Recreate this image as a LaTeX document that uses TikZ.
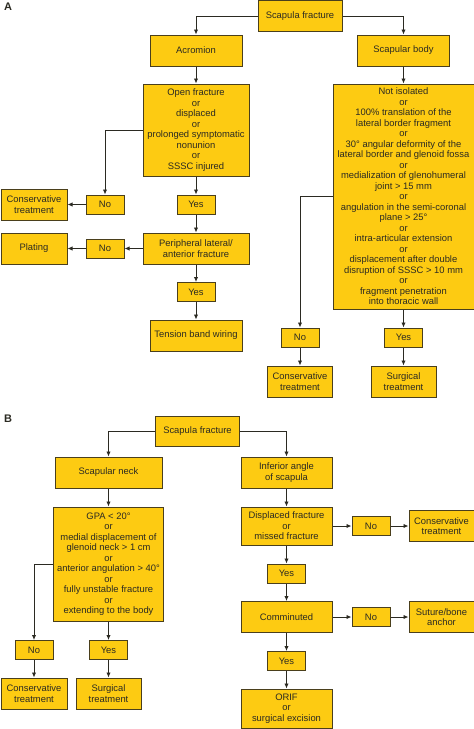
\documentclass[tikz,border=0pt]{standalone}
\usepackage{fontspec}
\setmainfont{Liberation Sans}
\usetikzlibrary{arrows.meta}
\definecolor{boxfill}{HTML}{FDCB12}
\definecolor{boxline}{HTML}{4A3F1C}
\definecolor{ink}{HTML}{2B2A22}
\begin{document}
\begin{tikzpicture}[x=1pt,y=-1pt,
  box/.style={draw=boxline,fill=boxfill,line width=1pt,align=center,inner sep=1pt,
    text=ink,font=\fontsize{9.4}{10.5}\selectfont},
  small/.style={box,minimum width=38pt,minimum height=19pt},
  flow/.style={draw=ink,line width=0.9pt,-{Latex[length=5pt,width=4.4pt]}},
  panel/.style={font=\bfseries\fontsize{11}{12}\selectfont,text=ink,anchor=north west,inner sep=0pt}]
\useasboundingbox (0,0) rectangle (474,729);

% panel A
\node[panel] (labA) at (4,3) {A};
\node[box,minimum width=84pt,minimum height=31pt] (sfA) at (300,16) {Scapula fracture};
\node[box,minimum width=92pt,minimum height=31pt] (acr) at (196,50.5) {Acromion};
\node[box,minimum width=92pt,minimum height=31pt] (body) at (403.5,50.5) {Scapular body};
\node[box,minimum width=141pt,minimum height=225pt] (crit) at (403.5,196.5) {Not isolated\\or\\100\% translation of the\\lateral border fragment\\or\\30° angular deformity of the\\lateral border and glenoid fossa\\or\\medialization of glenohumeral\\joint > 15 mm\\or\\angulation in the semi-coronal\\plane > 25°\\or\\intra-articular extension\\or\\displacement after double\\disruption of SSSC > 10 mm\\or\\fragment penetration\\into thoracic wall};
\node[box,minimum width=106pt,minimum height=92pt] (open) at (196,130) {Open fracture\\or\\displaced\\or\\prolonged symptomatic\\nonunion\\or\\SSSC injured};
\node[small] (noA1) at (105,204.5) {No};
\node[box,minimum width=66pt,minimum height=31pt] (consA1) at (34,204.5) {Conservative\\treatment};
\node[small] (yesA1) at (196,204.5) {Yes};
\node[box,minimum width=106pt,minimum height=31pt] (peri) at (196,248.5) {Peripheral lateral/\\anterior fracture};
\node[small] (noA2) at (105,248.5) {No};
\node[box,minimum width=66pt,minimum height=31pt] (plat) at (34,248.5) {Plating};
\node[small] (yesA2) at (196,292) {Yes};
\node[box,minimum width=92pt,minimum height=31pt] (tens) at (196,335.5) {Tension band wiring};
\node[small] (noA3) at (300,337.5) {No};
\node[box,minimum width=65pt,minimum height=31pt] (consA3) at (300,381.5) {Conservative\\treatment};
\node[small] (yesA3) at (403.5,337.5) {Yes};
\node[box,minimum width=65pt,minimum height=31pt] (surgA3) at (403.5,381.5) {Surgical\\treatment};

\draw[flow] (sfA.west) -| (acr.north);
\draw[flow] (sfA.east) -| (body.north);
\draw[flow] (acr) -- (open);
\draw[flow] (body) -- (crit);
\draw[flow] (open.west) -| (noA1.north);
\draw[flow] (noA1) -- (consA1);
\draw[flow] (open) -- (yesA1);
\draw[flow] (yesA1) -- (peri);
\draw[flow] (peri) -- (noA2);
\draw[flow] (noA2) -- (plat);
\draw[flow] (peri) -- (yesA2);
\draw[flow] (yesA2) -- (tens);
\draw[flow] (crit.west) -| (noA3.north);
\draw[flow] (noA3) -- (consA3);
\draw[flow] (crit) -- (yesA3);
\draw[flow] (yesA3) -- (surgA3);

% panel B
\node[panel] (labB) at (4,415) {B};
\node[box,minimum width=84pt,minimum height=30pt] (sfB) at (197.5,431) {Scapula fracture};
\node[box,minimum width=107pt,minimum height=31pt] (neck) at (108.5,472.5) {Scapular neck};
\node[box,minimum width=91pt,minimum height=31pt] (inf) at (286.5,472.5) {Inferior angle\\of scapula};
\node[box,minimum width=110pt,minimum height=114pt] (gpa) at (108.5,564) {GPA < 20°\\or\\medial displacement of\\glenoid neck > 1 cm\\or\\anterior angulation > 40°\\or\\fully unstable fracture\\or\\extending to the body};
\node[small] (noB1) at (34,650) {No};
\node[box,minimum width=66pt,minimum height=31pt] (consB1) at (34,693.5) {Conservative\\treatment};
\node[small] (yesB1) at (108.5,650) {Yes};
\node[box,minimum width=65pt,minimum height=31pt] (surgB1) at (108.5,693.5) {Surgical\\treatment};
\node[box,minimum width=91pt,minimum height=38pt] (disp) at (286.5,526) {Displaced fracture\\or\\missed fracture};
\node[small] (noB2) at (371,526) {No};
\node[box,minimum width=65pt,minimum height=31pt] (consB2) at (441.5,526) {Conservative\\treatment};
\node[small] (yesB2) at (286.5,573.5) {Yes};
\node[box,minimum width=91pt,minimum height=31pt] (comm) at (286.5,617) {Comminuted};
\node[small] (noB3) at (371,617) {No};
\node[box,minimum width=65pt,minimum height=31pt] (anch) at (441.5,617) {Suture/bone\\anchor};
\node[small] (yesB3) at (286.5,661) {Yes};
\node[box,minimum width=91pt,minimum height=39pt] (orif) at (286.5,708.5) {ORIF\\or\\surgical excision};

\draw[flow] (sfB.west) -| (neck.north);
\draw[flow] (sfB.east) -| (inf.north);
\draw[flow] (neck) -- (gpa);
\draw[flow] (gpa.west) -| (noB1.north);
\draw[flow] (noB1) -- (consB1);
\draw[flow] (gpa) -- (yesB1);
\draw[flow] (yesB1) -- (surgB1);
\draw[flow] (inf) -- (disp);
\draw[flow] (disp) -- (noB2);
\draw[flow] (noB2) -- (consB2);
\draw[flow] (disp) -- (yesB2);
\draw[flow] (yesB2) -- (comm);
\draw[flow] (comm) -- (noB3);
\draw[flow] (noB3) -- (anch);
\draw[flow] (comm) -- (yesB3);
\draw[flow] (yesB3) -- (orif);
\end{tikzpicture}
\end{document}
